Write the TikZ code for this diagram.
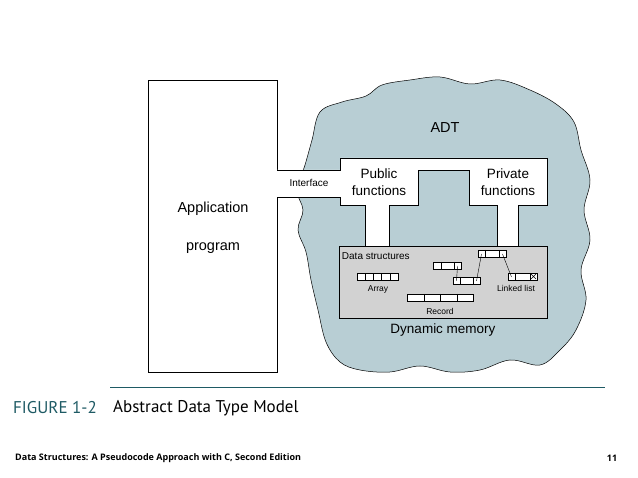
\documentclass[tikz,border=0pt]{standalone}
\usepackage{fontspec}
\setmainfont{Liberation Sans}
\newfontfamily\capfont{PT Sans}
\newfontfamily\footfont{Open Sans}
\usepackage{xcolor}
\definecolor{adtblue}{HTML}{B8CED4}
\definecolor{dsgray}{HTML}{D2D2D2}
\definecolor{capteal}{HTML}{1E5A64}
\tikzset{
  cell/.style={draw,fill=white,line width=0.6pt},
  lbl/.style={inner sep=0.75pt,font=\fontsize{8.5}{10}\selectfont},
  big/.style={inner sep=0.75pt,font=\fontsize{14.5}{16}\selectfont}
}
\begin{document}
\begin{tikzpicture}[x=1pt,y=1pt,yscale=-1,xscale=1]
        \useasboundingbox (0,0) rectangle (638,478);
        % ADT blob
        \draw [fill=adtblue,line width=0.5pt] plot [smooth cycle,tension=0.6] coordinates {(312,140) (320,112) (342,102) (366,96) (382,85) (410,80) (440,77) (470,84) (500,80) (530,90) (556,104) (574,122) (581,150) (590,180) (584,210) (590,240) (581,270) (586,300) (576,330) (560,350) (540,365) (510,360) (480,370) (450,372) (420,366) (390,372) (360,370) (340,362) (326,342) (318,310) (311,280) (306,252) (298,230) (303,210) (297,190) (305,165)};
        % application
        \draw [fill=white,line width=0.6pt] (148,80) rectangle (277,372);
        \node [big] (app) at (213,209) {Application};
        \node [big] (prog) at (213,248) {program};
        % public / private functions with interface
        \draw [fill=white,line width=0.6pt] (277,170) -- (340,170) -- (340,158) -- (547,158) -- (547,205) -- (518,205) -- (518,246) -- (497,246) -- (497,205) -- (469,205) -- (469,170) -- (418,170) -- (418,205) -- (389,205) -- (389,246) -- (365,246) -- (365,205) -- (340,205) -- (340,197) -- (277,197);
        \node [lbl,font=\fontsize{10}{11}\selectfont] (iface) at (309,183) {Interface};
        \node [big,align=center,font=\fontsize{13.5}{17}\selectfont] (pub) at (379,182) {Public\\functions};
        \node [big,align=center,font=\fontsize{13.5}{17}\selectfont] (priv) at (508,182) {Private\\functions};
        \node [big] (adt) at (445,128) {ADT};
        % data structures
        \draw [fill=dsgray,line width=0.6pt] (339,246) rectangle (547,318);
        \node [lbl,font=\fontsize{10}{11}\selectfont,anchor=west] (ds) at (341,256) {Data structures};
        \foreach \i in {0,...,4} \draw [cell] (357+8.2*\i,273) rectangle +(8.2,7);
        \node [lbl] (arr) at (378,289) {Array};
        \draw [cell] (407,294) rectangle (473,301);
        \foreach \x in {424,440,457} \draw (\x,294) -- (\x,301);
        \node [lbl] (rec) at (440,311) {Record};
        % linked list
        \draw [cell] (433,262) rectangle (461,269); \draw (441,262) -- (441,269) (454,262) -- (454,269);
        \draw [cell] (453,277) rectangle (480,284); \draw (460,277) -- (460,284) (473,277) -- (473,284);
        \draw [cell] (478,250) rectangle (506,257); \draw (485,250) -- (485,257) (499,250) -- (499,257);
        \draw [cell] (508,273) rectangle (537,280); \draw (515,273) -- (515,280) (530,273) -- (530,280);
        \draw (531,274) -- (536,279) (536,274) -- (531,279);
        \coordinate (p1) at (457.5,266); \coordinate (q1) at (456.5,281);
        \coordinate (p2) at (476.5,281); \coordinate (q2) at (481.5,254);
        \coordinate (p3) at (502.5,254); \coordinate (q3) at (511.5,277);
        \draw (p1) -- (q1); \draw (p2) -- (q2); \draw (p3) -- (q3);
        \node [lbl] (ll) at (516,288) {Linked list};
        \node [big,font=\fontsize{13.5}{16}\selectfont] (dyn) at (443,330) {Dynamic memory};
        % caption
        \draw [capteal,line width=1pt] (110,388) -- (605,388);
        \node [anchor=west,inner sep=0pt,text=capteal,font=\capfont\fontsize{17}{19}\selectfont] (fig) at (13,408) {FIGURE 1-2};
        \node [anchor=west,inner sep=0pt,font=\capfont\fontsize{17}{19}\selectfont] (title) at (113,408) {Abstract Data Type Model};
        \node [anchor=west,inner sep=0pt,font=\footfont\bfseries\fontsize{9}{10}\selectfont] (foot) at (15,458) {Data Structures: A Pseudocode Approach with C, Second Edition};
        \node [inner sep=0pt,font=\footfont\bfseries\fontsize{9}{10}\selectfont] (page) at (612,458) {11};
\end{tikzpicture}
\end{document}
